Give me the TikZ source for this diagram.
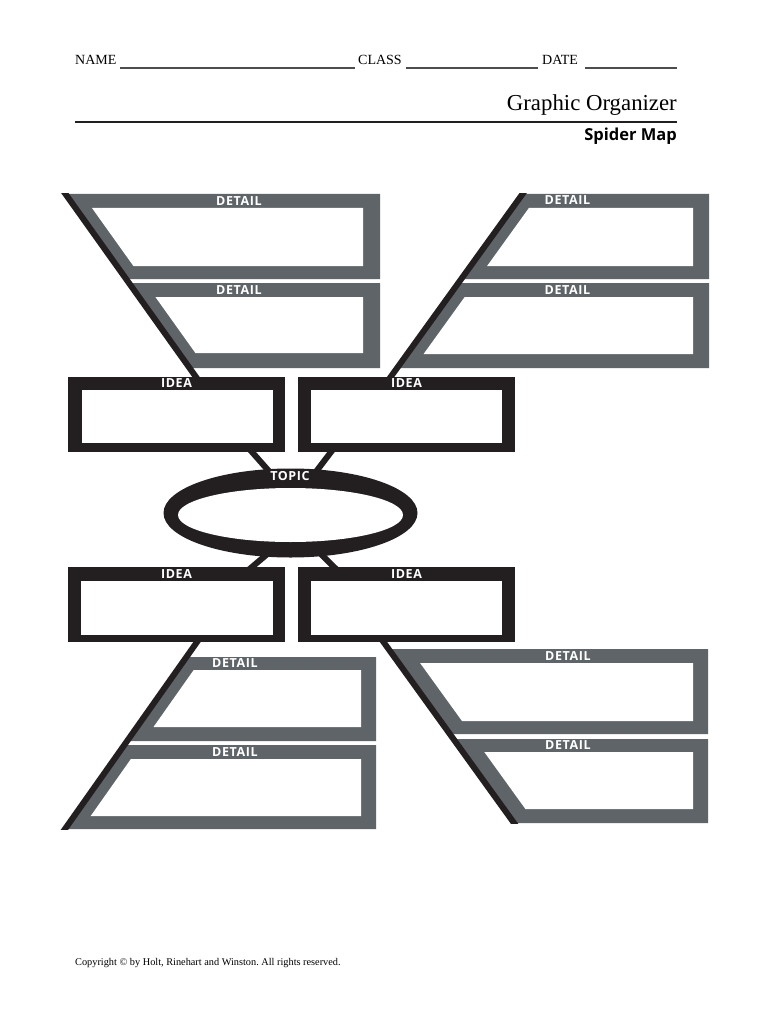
\documentclass[tikz,border=0pt]{standalone}
\usepackage{fontspec}
\setmainfont{Liberation Serif}
\newfontfamily\lblfont[LetterSpace=5]{Open Sans}
\newfontfamily\sansfont{Open Sans}
\usetikzlibrary{shapes.geometric}
\definecolor{ink}{HTML}{231F20}
\definecolor{slate}{HTML}{5E6468}
\pgfdeclarelayer{bg}
\pgfdeclarelayer{mid}
\pgfsetlayers{bg,mid,main}
\frenchspacing
\begin{document}
\begin{tikzpicture}[x=1pt,y=-1pt,
  graybox/.style={fill=slate},
  hole/.style={fill=white},
  lbl/.style={text=white,inner sep=0pt,font=\lblfont\bfseries\fontsize{12.5}{12.5}\selectfont},
  ideabox/.style={rectangle,fill=ink,minimum width=217pt,minimum height=75pt,inner sep=0pt,outer sep=0pt},
  topicshape/.style={ellipse,fill=ink,minimum width=254pt,minimum height=89pt,inner sep=0pt,outer sep=0pt},
  spine/.style={draw=ink,line width=6pt},
  conn/.style={draw=ink,line width=6pt,shorten <=-4pt,shorten >=-4pt},
  hdr/.style={inner sep=0pt,font=\fontsize{14}{14}\selectfont},
  blank/.style={draw=ink!80,line width=1.1pt}]
\useasboundingbox (0,0) rectangle (768,1024);

% ---------- detail boxes (background) ----------
\begin{pgfonlayer}{bg}
\fill[white] (0,0) rectangle (768,1024);
% top-left group
\path[graybox] (65.5,194) -- (380,194) -- (380,279) -- (126.1,279) -- cycle;
\path[hole] (92,208) -- (363,208) -- (363,266) -- (133.4,266) -- cycle;
\path[graybox] (129,283) -- (380,283) -- (380,368) -- (189.6,368) -- cycle;
\path[hole] (155.4,297) -- (363,297) -- (363,353) -- (195.4,353) -- cycle;
% top-right group
\path[graybox] (522.5,194) -- (709,194) -- (709,279) -- (461.2,279) -- cycle;
\path[hole] (528.9,208) -- (693,208) -- (693,266) -- (487.1,266) -- cycle;
\path[graybox] (458.3,283) -- (709,283) -- (709,368) -- (397,368) -- cycle;
\path[hole] (464.7,297) -- (693,297) -- (693,354) -- (423.6,354) -- cycle;
% bottom-left group
\path[graybox] (186.4,657) -- (376,657) -- (376,741) -- (127.1,741) -- cycle;
\path[hole] (193.7,670) -- (361,670) -- (361,727) -- (153.5,727) -- cycle;
\path[graybox] (124.3,745) -- (376,745) -- (376,829) -- (65,829) -- cycle;
\path[hole] (130.9,759) -- (361,759) -- (361,816) -- (90.7,816) -- cycle;
% bottom-right group
\path[graybox] (388.5,649) -- (708,649) -- (708,734) -- (449.8,734) -- cycle;
\path[hole] (420.1,663) -- (693,663) -- (693,721) -- (462,721) -- cycle;
\path[graybox] (453.4,739) -- (708,739) -- (708,823) -- (514,823) -- cycle;
\path[hole] (484.3,752) -- (693,752) -- (693,809) -- (525.4,809) -- cycle;
\end{pgfonlayer}

% ---------- header ----------
\node[hdr,anchor=base west] (name) at (75,65) {NAME};
\node[hdr,anchor=base west] (class) at (358,65) {CLASS};
\node[hdr,anchor=base west] (date) at (542,65) {DATE};
\coordinate (n1) at (120,68); \coordinate (n2) at (355,68);
\coordinate (c1) at (406,68); \coordinate (c2) at (538,68);
\coordinate (d1) at (585,68); \coordinate (d2) at (677,68);
\draw[blank] (n1) -- (n2);
\draw[blank] (c1) -- (c2);
\draw[blank] (d1) -- (d2);
\node[inner sep=0pt,anchor=base east,font=\fontsize{22.8}{22.8}\selectfont] (go) at (677,111) {Graphic Organizer};
\coordinate (r1) at (75,122); \coordinate (r2) at (677,122);
\draw[ink,line width=2pt] (r1) -- (r2);
\node[inner sep=0pt,anchor=base east,font=\sansfont\bfseries\fontsize{16.5}{16.5}\selectfont] (sm) at (677,141) {Spider Map};

\node[lbl] (d1l) at (239,201) {DETAIL};
\node[lbl] (d2l) at (239,290) {DETAIL};
\node[lbl] (d3l) at (567.5,200.5) {DETAIL};
\node[lbl] (d4l) at (567.5,290) {DETAIL};
\node[lbl] (d5l) at (235,663.5) {DETAIL};
\node[lbl] (d6l) at (235,752.5) {DETAIL};
\node[lbl] (d7l) at (568,656.5) {DETAIL};
\node[lbl] (d8l) at (568,745.5) {DETAIL};

% ---------- idea boxes ----------
\node[ideabox] (idea1) at (176.5,414.5) {};
\fill[white] (82,390) rectangle (273,443);
\node[ideabox] (idea2) at (406,414.5) {};
\fill[white] (311,390) rectangle (502,443);
\node[ideabox] (idea3) at (176.5,604.5) {};
\fill[white] (81,581) rectangle (273,635);
\node[ideabox] (idea4) at (406,604.5) {};
\fill[white] (311,581) rectangle (502,635);
\node[lbl] (i1l) at (176.5,383) {IDEA};
\node[lbl] (i2l) at (406.5,383) {IDEA};
\node[lbl] (i3l) at (176.5,574) {IDEA};
\node[lbl] (i4l) at (406.5,574) {IDEA};

% ---------- topic ----------
\node[topicshape] (topic) at (290.5,513) {};
\fill[white] (290.5,515) ellipse [x radius=112.5pt, y radius=27pt];
\node[lbl] (tl) at (290,476) {TOPIC};

% ---------- spines and connectors ----------
\coordinate (tlTop) at (65.5,194);
\coordinate (trTop) at (522.5,194);
\coordinate (blBot) at (65,829);
\coordinate (brBot) at (514,823);
\begin{pgfonlayer}{mid}
\begin{scope}
\clip (0,194) rectangle (768,1024);
\draw[spine,shorten <=-6pt,shorten >=-6pt] (tlTop) -- ([xshift=19.5pt]idea1.north);
\draw[spine,shorten <=-6pt,shorten >=-6pt] (trTop) -- ([xshift=-15.4pt]idea2.north);
\end{scope}
\begin{scope}
\clip (0,0) rectangle (768,829);
\draw[spine,shorten <=-6pt,shorten >=-6pt] ([xshift=20.5pt]idea3.south) -- (blBot);
\end{scope}
\begin{scope}
\clip (0,0) rectangle (768,823);
\draw[spine,shorten <=-6pt,shorten >=-6pt] ([xshift=-22.5pt]idea4.south) -- (brBot);
\end{scope}
\draw[conn] ([xshift=75.5pt]idea1.south) -- (topic.118);
\draw[conn] ([xshift=-75pt]idea2.south) -- (topic.58);
\draw[conn] ([xshift=75.5pt]idea3.north) -- (topic.239);
\draw[conn] ([xshift=-72pt]idea4.north) -- (topic.307);
\end{pgfonlayer}

% ---------- footer ----------
\node[inner sep=0pt,anchor=base west,font=\fontsize{10.3}{10.3}\selectfont] (copy) at (75,965) {Copyright \textcopyright\ by Holt, Rinehart and Winston. All rights reserved.};
\end{tikzpicture}
\end{document}
